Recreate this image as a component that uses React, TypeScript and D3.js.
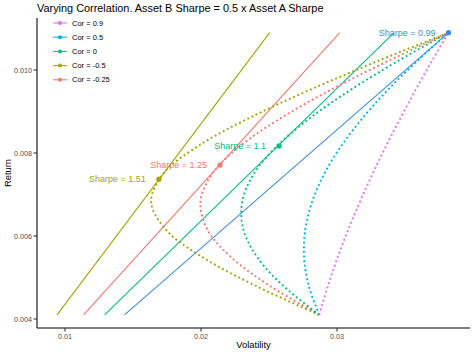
import React from "react";
import * as d3 from "d3";

// ---- data ----
const returns = [0.0041, 0.00478, 0.00546, 0.00614, 0.00682, 0.0075, 0.00818, 0.00886, 0.00954, 0.01022, 0.0109];
const volCor09 = [0.0287, 0.029315, 0.030021, 0.030811, 0.03168, 0.03262, 0.033627, 0.034693, 0.035814, 0.036984, 0.0382];
const volCor05 = [0.0287, 0.027937, 0.027585, 0.027662, 0.028163, 0.029066, 0.030335, 0.031928, 0.033798, 0.035901, 0.0382];
const volCor0 = [0.0287, 0.026111, 0.024198, 0.023129, 0.023022, 0.02389, 0.025634, 0.028092, 0.031094, 0.0345, 0.0382];
const volCorM05 = [0.0287, 0.024148, 0.020251, 0.017456, 0.016337, 0.017223, 0.019849, 0.023642, 0.028133, 0.033039, 0.0382];
const volCorM025 = [0.0287, 0.025149, 0.022312, 0.02049, 0.019961, 0.020825, 0.022925, 0.025962, 0.029651, 0.033777, 0.0382];

const legendLabels = ["Cor = 0.9", "Cor = 0.5", "Cor = 0", "Cor = -0.5", "Cor = -0.25"];
const seriesColors = ["#E76BF3", "#00B0F6", "#00BF7D", "#A3A500", "#F8766D"];

// tangency (max Sharpe) points and their lines
const sharpeLabels = ["Sharpe = 0.99", "Sharpe = 1.1", "Sharpe = 1.51", "Sharpe = 1.25"];
const sharpeColors = ["#3A8CE6", "#00BF7D", "#A3A500", "#F8766D"];
const sharpeVol = [0.0382, 0.02574, 0.0169, 0.0214];
const sharpeRet = [0.0109, 0.00817, 0.00737, 0.00771];
const lineVolStart = [0.01437, 0.01291, 0.00941, 0.01136];
const lineVolEnd = [0.0382, 0.0342, 0.02505, 0.0302];
const lineRetStart = 0.0041;
const lineRetEnd = 0.0109;

const xTicks = [0.01, 0.02, 0.03];
const xTickLabels = ["0.01", "0.02", "0.03"];
const yTicks = [0.004, 0.006, 0.008, 0.01];
const yTickLabels = ["0.004", "0.006", "0.008", "0.010"];

const title = "Varying Correlation. Asset B Sharpe = 0.5 x Asset A Sharpe";

export default function App() {
  const W = 474, H = 355;
  const left = 37, right = 470, top = 18, bottom = 328;
  const x = d3.scaleLinear().domain([0.00794, 0.03978]).range([left, right]);
  const y = d3.scaleLinear().domain([0.003783, 0.011253]).range([bottom, top]);
  const font = "'Liberation Sans', Arial, Helvetica, sans-serif";

  const curves = [volCor09, volCor05, volCor0, volCorM05, volCorM025];
  const line = d3
    .line<[number, number]>()
    .x((d) => x(d[0]))
    .y((d) => y(d[1]))
    .curve(d3.curveCatmullRom.alpha(0.5));

  const drawOrder = [4, 3, 2, 1, 0];

  return (
    <svg width={W} height={H} style={{ position: "absolute", left: 0, top: 0, background: "#fff" }} fontFamily={font}>
      <rect x={0} y={0} width={W} height={H} fill="#fff" />
      {/* tangent lines */}
      {sharpeLabels.map((_, i) => (
        <line
          key={"tl" + i}
          x1={x(lineVolStart[i])}
          y1={y(lineRetStart)}
          x2={x(lineVolEnd[i])}
          y2={y(lineRetEnd)}
          stroke={sharpeColors[i]}
          strokeWidth={1.07}
        />
      ))}
      {/* frontier curves */}
      {drawOrder.map((i) => (
        <path
          key={"c" + i}
          d={line(curves[i].map((v, k) => [v, returns[k]] as [number, number])) || ""}
          fill="none"
          stroke={seriesColors[i]}
          strokeWidth={1.9}
          strokeDasharray="1.9 2.7"
        />
      ))}
      {/* sharpe points and labels */}
      {sharpeLabels.map((lab, i) => (
        <g key={"sp" + i}>
          <circle cx={x(sharpeVol[i])} cy={y(sharpeRet[i])} r={2.6} fill={sharpeColors[i]} />
          <text
            x={x(sharpeVol[i]) - 13}
            y={y(sharpeRet[i])}
            dy="0.35em"
            textAnchor="end"
            fontSize={9}
            fill={sharpeColors[i]}
          >
            {lab}
          </text>
        </g>
      ))}
      {/* axes */}
      <line x1={left} x2={right} y1={bottom} y2={bottom} stroke="#000" strokeWidth={1.07} />
      <line x1={left} x2={left} y1={top} y2={bottom} stroke="#000" strokeWidth={1.07} />
      {xTicks.map((t, i) => (
        <g key={"xt" + i}>
          <line x1={x(t)} x2={x(t)} y1={bottom} y2={bottom + 3.5} stroke="#333" strokeWidth={1.07} />
          <text x={x(t)} y={bottom + 10.5} textAnchor="middle" fontSize={7.2} fill="#4D4D4D">
            {xTickLabels[i]}
          </text>
        </g>
      ))}
      {yTicks.map((t, i) => (
        <g key={"yt" + i}>
          <line x1={left - 3.5} x2={left} y1={y(t)} y2={y(t)} stroke="#333" strokeWidth={1.07} />
          <text x={left - 5} y={y(t)} dy="0.35em" textAnchor="end" fontSize={7.2} fill="#4D4D4D">
            {yTickLabels[i]}
          </text>
        </g>
      ))}
      <text x={(left + right) / 2} y={348} textAnchor="middle" fontSize={9.4} fill="#000">
        Volatility
      </text>
      <text
        transform={`translate(11,${(top + bottom) / 2}) rotate(-90)`}
        textAnchor="middle"
        fontSize={9.4}
        fill="#000"
      >
        Return
      </text>
      <text x={37} y={11.5} fontSize={10.9} fill="#000">
        {title}
      </text>
      {/* legend */}
      {legendLabels.map((lab, i) => {
        const ly = 23 + i * 14.2;
        return (
          <g key={"lg" + i}>
            <line x1={53} x2={67} y1={ly} y2={ly} stroke={seriesColors[i]} strokeWidth={1.07} />
            <circle cx={60} cy={ly} r={2} fill={seriesColors[i]} />
            <text x={72} y={ly} dy="0.35em" fontSize={7.5} fill="#000">
              {lab}
            </text>
          </g>
        );
      })}
    </svg>
  );
}
